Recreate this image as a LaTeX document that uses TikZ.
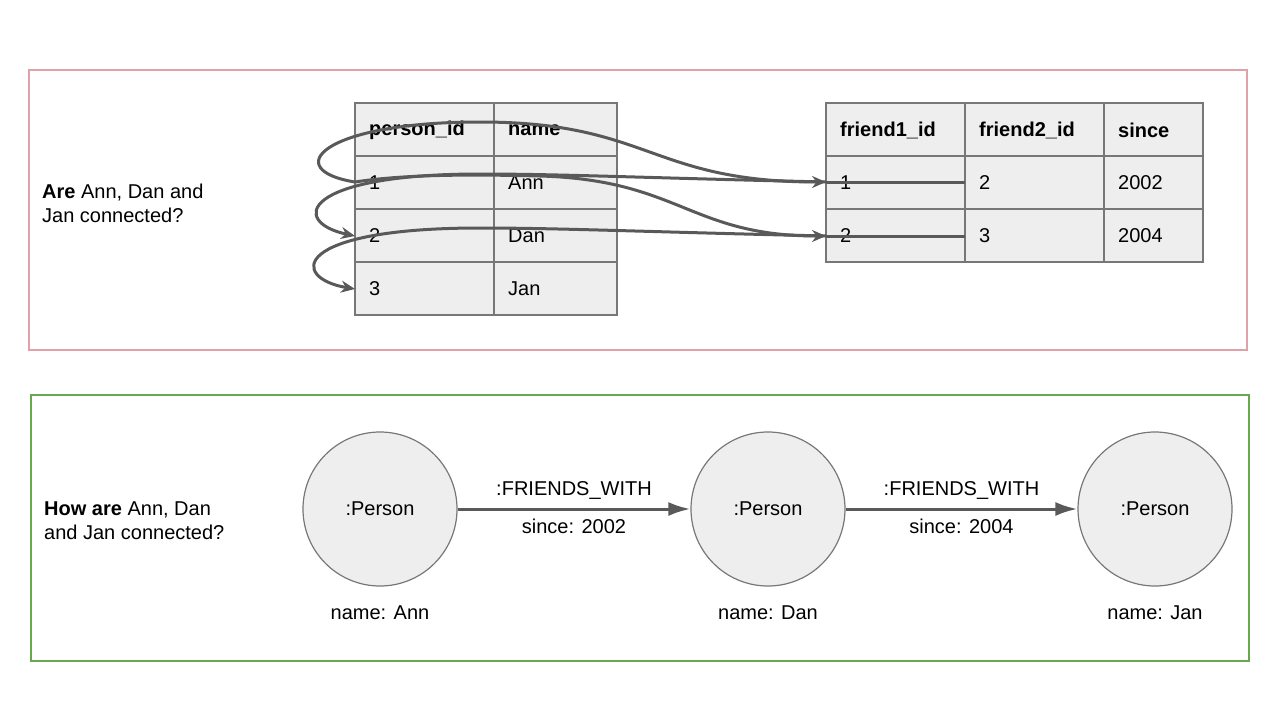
\documentclass[tikz,border=0pt]{standalone}
\usepackage{fontspec}
\setmainfont{Liberation Sans}
\usetikzlibrary{arrows.meta}
\definecolor{cellf}{HTML}{EEEEEE}
\definecolor{cellb}{HTML}{777777}
\definecolor{arr}{HTML}{595959}
\definecolor{pinkb}{HTML}{E0A2A8}
\definecolor{greenb}{HTML}{6AA84F}
\begin{document}
\begin{tikzpicture}[x=1pt,y=-1pt,
  cell/.style={draw=cellb,fill=cellf,line width=1.2pt},
  txt/.style={font=\fontsize{20}{24}\selectfont,anchor=west,inner sep=0},
  conn/.style={draw=arr,line width=3pt,-{Stealth[length=14pt,width=12pt]}},
  plain/.style={draw=arr,line width=3pt},
  person/.style={circle,draw=cellb,fill=cellf,minimum size=154pt,line width=1.2pt,font=\fontsize{20}{24}\selectfont},
  lab/.style={font=\fontsize{20}{24}\selectfont}]
\useasboundingbox (0,0) rectangle (1280,720);
\draw[pinkb,line width=1.5pt] (29,70) rectangle (1247,350);
\draw[greenb,line width=1.5pt] (31,395) rectangle (1249,661);
% person table
\foreach \r in {0,1,2,3}{
  \draw[cell] (355,{103+53*\r}) rectangle (494,{156+53*\r});
  \draw[cell] (494,{103+53*\r}) rectangle (617,{156+53*\r});}
\node[txt,font=\fontsize{20}{24}\selectfont\bfseries] (ph1) at (369,130) {person\_id};
\node[txt,font=\fontsize{20}{24}\selectfont\bfseries] (ph2) at (508,130) {name};
\node[txt] (p1) at (369,183) {1};
\node[txt] (pn1) at (508,183) {Ann};
\node[txt] (p2) at (369,236) {2};
\node[txt] (pn2) at (508,236) {Dan};
\node[txt] (p3) at (369,289) {3};
\node[txt] (pn3) at (508,289) {Jan};
% friends table
\foreach \r in {0,1,2}{
  \draw[cell] (826,{103+53*\r}) rectangle (965,{156+53*\r});
  \draw[cell] (965,{103+53*\r}) rectangle (1104,{156+53*\r});
  \draw[cell] (1104,{103+53*\r}) rectangle (1203,{156+53*\r});}
\node[txt,font=\fontsize{20}{24}\selectfont\bfseries] (fh1) at (840,130) {friend1\_id};
\node[txt,font=\fontsize{20}{24}\selectfont\bfseries] (fh2) at (979,130) {friend2\_id};
\node[txt,font=\fontsize{20}{24}\selectfont\bfseries] (fh3) at (1118,130) {since};
\node[txt] (f11) at (840,183) {1};
\node[txt] (f12) at (979,183) {2};
\node[txt] (f13) at (1118,183) {2002};
\node[txt] (f21) at (840,236) {2};
\node[txt] (f22) at (979,236) {3};
\node[txt] (f23) at (1118,236) {2004};
% connector anchors
\coordinate (a1) at (355,182);
\coordinate (a2) at (355,236);
\coordinate (a3) at (355,289);
\coordinate (b1) at (826,182);
\coordinate (b2) at (826,236);
\coordinate (c1) at (965,182);
\coordinate (c2) at (965,236);
% connectors
\path[conn] (a1) .. controls (280,170) and (320,122) .. (480,122)
  .. controls (650,122) and (650,182) .. (b1);
\path[plain] (c1) -- (b1);
\path[conn] (b1) .. controls (650,178) and (560,174) .. (480,174)
  .. controls (300,174) and (290,222) .. (a2);
\path[conn] (a1) .. controls (400,175) and (460,174) .. (540,176)
  .. controls (680,180) and (690,236) .. (b2);
\path[plain] (c2) -- (b2);
\path[conn] (b2) .. controls (650,232) and (560,228) .. (480,228)
  .. controls (290,228) and (290,278) .. (a3);
\node[txt,align=left,anchor=north west] (q1) at (42,184) {\textbf{Are} Ann, Dan and\\Jan connected?};
% graph
\node[person] (n1) at (380,509) {:Person};
\node[person] (n2) at (768,509) {:Person};
\node[person] (n3) at (1155,509) {:Person};
\draw[draw=arr,line width=3pt,-{Latex[length=22pt,width=14pt]}] (n1) -- node[lab,above=5pt]{:FRIENDS\_WITH} node[lab,below=5pt]{since: 2002} (n2);
\draw[draw=arr,line width=3pt,-{Latex[length=22pt,width=14pt]}] (n2) -- node[lab,above=5pt]{:FRIENDS\_WITH} node[lab,below=5pt]{since: 2004} (n3);
\node[lab] (l1) at (380,613) {name: Ann};
\node[lab] (l2) at (768,613) {name: Dan};
\node[lab] (l3) at (1155,613) {name: Jan};
\node[txt,align=left,anchor=north west] (q2) at (44,502) {\textbf{How are} Ann, Dan\\and Jan connected?};
\end{tikzpicture}
\end{document}
